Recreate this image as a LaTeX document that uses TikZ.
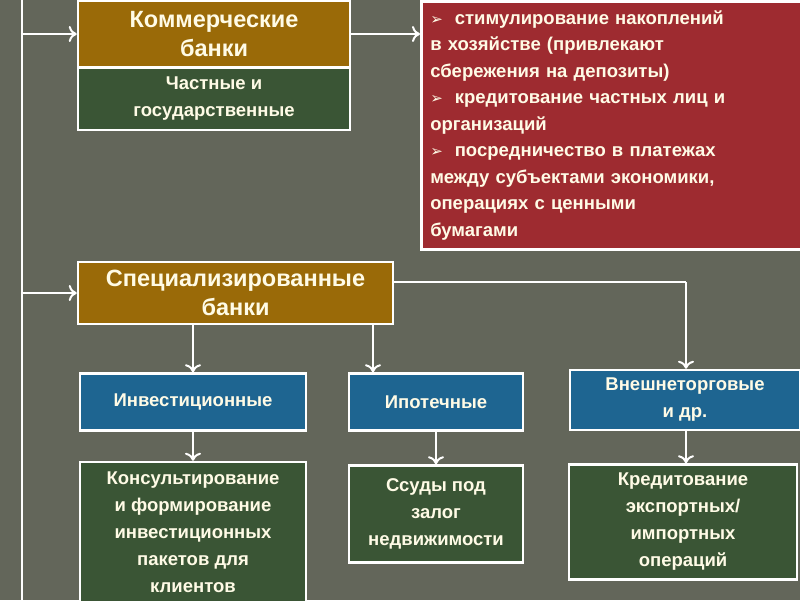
\documentclass[tikz,border=0pt]{standalone}
\usepackage{fontspec}
\setmainfont{Liberation Sans}
\newfontfamily\dejavu{DejaVu Sans}
\usetikzlibrary{arrows.meta}
\definecolor{bg}{HTML}{63665A}
\definecolor{brownb}{HTML}{9A6A08}
\definecolor{greenb}{HTML}{3A5535}
\definecolor{redb}{HTML}{9E2B30}
\definecolor{blueb}{HTML}{1E6591}
\definecolor{txt}{HTML}{FFFBE6}
\begin{document}
\begin{tikzpicture}[x=1pt,y=-1pt,
  box/.style={draw=white,line width=2.5pt,text=txt,font=\bfseries,align=center,inner sep=0pt},
  head/.style={box,fill=brownb,font=\bfseries\fontsize{23.5}{29}\selectfont},
  sub/.style={box,fill=greenb,font=\bfseries\fontsize{18.5}{27}\selectfont},
  blu/.style={box,fill=blueb,font=\bfseries\fontsize{18.5}{27}\selectfont},
  con/.style={draw=white,line width=2.5pt,-{To[length=8pt,width=16pt,line width=2pt]}},
  ln/.style={draw=white,line width=2.5pt}]
\fill[bg] (0,0) rectangle (800,600);
\useasboundingbox (0,0) rectangle (800,600);
\node[head,minimum width=272pt,minimum height=66pt] (kb) at (214,34) {Коммерческие\\банки};
\node[sub,minimum width=272pt,minimum height=62pt] (ch) at (214,99) {Частные и\\государственные};
\node[box,fill=redb,minimum width=380pt,minimum height=248pt,anchor=north west,align=left,
  text width=370pt,inner xsep=5pt,
  font=\bfseries\fontsize{18.5}{26.5}\selectfont] (rd) at (420,0)
  {\hspace*{4pt}{\dejavu\fontsize{15}{15}\selectfont ➢}\hspace{12pt}стимулирование накоплений\\
   \hspace*{4pt}в хозяйстве (привлекают\\
   \hspace*{4pt}сбережения на депозиты)\\
   \hspace*{4pt}{\dejavu\fontsize{15}{15}\selectfont ➢}\hspace{12pt}кредитование частных лиц и\\
   \hspace*{4pt}организаций\\
   \hspace*{4pt}{\dejavu\fontsize{15}{15}\selectfont ➢}\hspace{12pt}посредничество в платежах\\
   \hspace*{4pt}между субъектами экономики,\\
   \hspace*{4pt}операциях с ценными\\
   \hspace*{4pt}бумагами};
\node[head,minimum width=315pt,minimum height=62pt] (sb) at (235.5,293) {Специализированные\\банки};
\node[blu,minimum width=226pt,minimum height=57pt] (inv) at (193,402) {Инвестиционные};
\node[blu,minimum width=174pt,minimum height=57pt] (ip) at (436,402) {Ипотечные};
\node[blu,minimum width=230pt,minimum height=60pt] (vn) at (685,400) {Внешнеторговые\\и др.};
\node[sub,minimum width=226pt,minimum height=140pt] (g1) at (193,532) {Консультирование\\и формирование\\инвестиционных\\пакетов для\\клиентов};
\node[sub,minimum width=174pt,minimum height=97pt] (g2) at (436,514) {Ссуды под\\залог\\недвижимости};
\node[sub,minimum width=228pt,minimum height=115pt] (g3) at (683,522) {Кредитование\\экспортных/\\импортных\\операций};
\coordinate (top) at (22,0);
\coordinate (bot) at (22,600);
\coordinate (ipx) at (373,0);
\draw[ln] (top) -- (bot);
\draw[con] (22,34) -- (kb.west);
\draw[con] (22,293) -- (sb.west);
\draw[con] (kb.east) -- (rd.west |- kb.east);
\draw[con] (sb.south -| inv.north) -- (inv.north);
\draw[con] (sb.south -| ipx) -- (ip.north -| ipx);
\coordinate (cr) at (686,282);
\draw[ln] (sb.east |- cr) -- (cr);
\draw[con] (cr) -- (vn.north -| cr);
\draw[con] (inv.south) -- (g1.north);
\draw[con] (ip.south) -- (g2.north);
\draw[con] (vn.south -| cr) -- (g3.north -| cr);
\end{tikzpicture}
\end{document}
